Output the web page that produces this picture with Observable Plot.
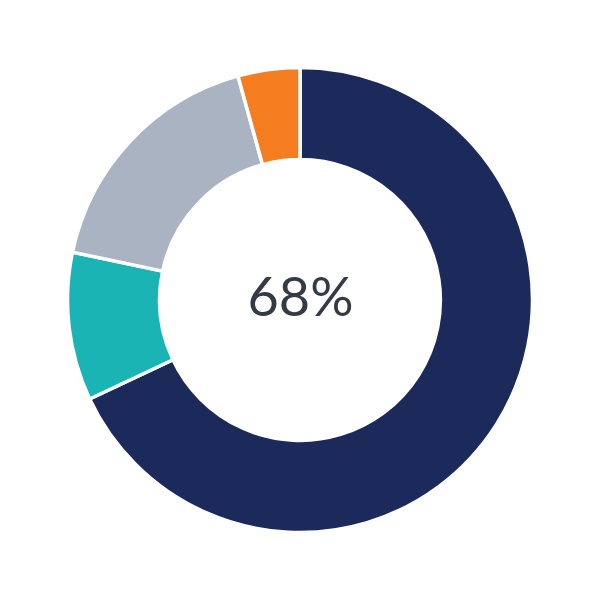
<!DOCTYPE html>
<html>
<head>
<meta charset="utf-8">
<script src="https://cdn.jsdelivr.net/npm/d3@7"></script>
<script src="https://cdn.jsdelivr.net/npm/@observablehq/plot@0.6"></script>
<style>
  html, body { margin: 0; padding: 0; background: #fff; }
</style>
</head>
<body>
<div id="chart"></div>
<script>
const categories = ["Navy", "Teal", "Gray", "Orange"];
const values = [68, 10.3, 17.4, 4.3];
const colors = ["#1b2a5a", "#1ab4b5", "#a9b3c1", "#f47d20"];
const centerLabel = ["68%"];

const data = categories.map((c, i) => ({category: c, value: values[i]}));
const arcs = d3.pie().value(d => d.value).sort(null)(data);

const OUTER = 0.775, INNER = 0.468;

function donut(index, scales, vals, dimensions, context) {
  const r0 = scales.x(INNER) - scales.x(0);
  const r1 = scales.x(OUTER) - scales.x(0);
  const cx = scales.x(0), cy = scales.y(0);
  const arcGen = d3.arc().innerRadius(r0).outerRadius(r1);
  const g = d3.create("svg:g").attr("transform", `translate(${cx},${cy})`);
  g.selectAll("path")
    .data(Array.from(index, i => arcs[i]))
    .join("path")
    .attr("d", arcGen)
    .attr("fill", d => scales.color(d.data.category))
    .attr("stroke", "#fff")
    .attr("stroke-width", 3.5)
    .attr("stroke-linejoin", "miter");
  return g.node();
}

const chart = Plot.plot({
  width: 600,
  height: 600,
  margin: 0,
  x: {domain: [-1, 1], axis: null},
  y: {domain: [-1, 1], axis: null},
  color: {domain: categories, range: colors},
  style: {background: "#fff"},
  marks: [
    Plot.dot(arcs, {x: () => 0, y: () => 0, fill: d => d.data.category, render: donut}),
    Plot.text(centerLabel, {
      x: () => 0, y: () => 0, text: d => d,
      fontSize: 54, fontWeight: 400, fill: "#353b45",
      fontFamily: "Lato", textAnchor: "middle", dy: -2
    })
  ]
});
document.getElementById("chart").appendChild(chart);
</script>
</body>
</html>
